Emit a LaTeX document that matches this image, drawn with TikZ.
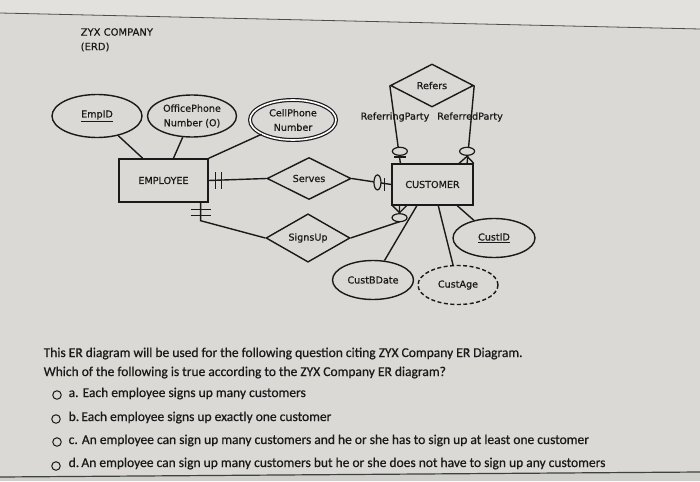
\documentclass[tikz,border=0pt]{standalone}
\usepackage{fontspec}
\setmainfont{DejaVu Sans}[RawFeature={embolden=0.6}]
\newfontfamily\qfont{Carlito}[RawFeature={embolden=0.7}]
\usetikzlibrary{shapes.geometric,calc}
\definecolor{bg}{HTML}{DAD9D5}
\definecolor{bgtop}{HTML}{E3E1DE}
\definecolor{bgbot}{HTML}{CFCFCC}
\definecolor{ink}{HTML}{1A1A1A}
\begin{document}
\begin{tikzpicture}[x=1pt,y=-1pt,line width=1.4pt,color=ink,
  lab/.style={font=\fontsize{9.6}{14.5}\selectfont},
  attr/.style={ellipse,draw,inner sep=0pt,align=center,lab,minimum width=90pt,minimum height=43pt},
  ent/.style={rectangle,draw,inner sep=0pt,lab},
  rel/.style={diamond,draw,inner sep=0pt,lab,minimum width=84pt,minimum height=42pt},
  plain/.style={inner sep=0pt,lab},
  qtext/.style={font=\qfont\fontsize{13.5}{16}\selectfont,anchor=base west,inner sep=0pt},
  optc/.style={circle,draw,line width=1pt,minimum size=8.5pt,inner sep=0pt},
  hring/.style={ellipse,draw,fill=bg,inner sep=0pt,minimum width=15pt,minimum height=8pt,line width=1.2pt},
  vring/.style={ellipse,draw,fill=bg,inner sep=0pt,minimum width=7pt,minimum height=15pt,line width=1.2pt}
]
\useasboundingbox (0,0) rectangle (700,481);
% photo background
\fill[bg] (0,0) rectangle (700,481);
\fill[bgtop] (0,0) -- (700,0) -- (700,29) -- (0,13) -- cycle;
\draw[line width=0.8pt,gray!60!black] (0,13) -- (700,29);
\fill[bgbot] (0,477) -- (700,472) -- (700,481) -- (0,481) -- cycle;
\draw[line width=1.2pt,gray!50!black] (0,477) -- (700,472);

% title
\node[plain,anchor=west,font=\fontsize{10}{12}\selectfont] (t1) at (80,32) {ZYX COMPANY};
\node[plain,anchor=west,font=\fontsize{10}{12}\selectfont] (t2) at (80,47) {(ERD)};

% entities
\node[ent,minimum width=89pt,minimum height=43pt] (emp) at (163.5,180.5) {EMPLOYEE};
\node[ent,minimum width=81pt,minimum height=41pt] (cust) at (432.5,184.5) {CUSTOMER};

% relationships
\node[rel,minimum width=83pt,minimum height=43pt] (refers) at (432,85.5) {Refers};
\node[rel] (serves) at (309,178.5) {Serves};
\node[rel,minimum height=40pt] (signs) at (308,238) {SignsUp};

% attributes
\node[attr] (empid) at (97,116) {\underline{EmpID}};
\node[attr,minimum width=89pt,minimum height=42pt] (ophone) at (192,116) {OfficePhone\\Number (O)};
\node[attr,double,double distance=1.6pt,line width=1.2pt,minimum width=86pt,minimum height=40pt] (cphone) at (293,120) {CellPhone\\Number};
\node[attr,minimum width=82pt,minimum height=39pt] (custid) at (494,238) {\underline{CustID}};
\node[attr,minimum width=81pt,minimum height=39pt] (cbdate) at (373,280) {CustBDate};
\node[attr,dashed,dash pattern=on 4pt off 2.5pt,minimum width=80pt,minimum height=39pt] (cage) at (458,285) {CustAge};

% role labels
\node[plain] (rpl) at (395,117) {ReferringParty};
\node[plain] (rdl) at (470,117) {ReferredParty};

% attribute connectors
\draw (empid) -- ($(emp.north west)!0.27!(emp.north east)$);
\draw (ophone) -- ($(emp.north west)!0.61!(emp.north east)$);
\draw (cphone) -- (emp.north east);
\draw ($(cust.south west)!0.31!(cust.south east)$) -- (cbdate);
\draw ($(cust.south west)!0.57!(cust.south east)$) -- (cage);
\draw ($(cust.south west)!0.80!(cust.south east)$) -- (custid);

% EMPLOYEE -- Serves (one and only one)
\draw (emp.east) -- (serves.west);
\draw ($(emp.east)+(7,-8.5)$) -- ++(0,17);
\draw ($(emp.east)+(13,-8.5)$) -- ++(0,17);

% EMPLOYEE -- SignsUp (one and only one)
\coordinate (esd) at ($(emp.south west)!0.91!(emp.south east)$);
\draw (esd) -- ++(0,18) -- (signs.west);
\draw ($(esd)+(-10,7)$) -- ++(20,0);
\draw ($(esd)+(-10,13)$) -- ++(20,0);

% Serves -- CUSTOMER (zero or one)
\draw (serves.east) -- (cust.west);
\draw ($(cust.west)+(-7,-6.5)$) -- ++(0,13);
\node[vring] (o1) at ($(cust.west)!14pt!(serves.east)$) {};

% Refers -- CUSTOMER, referring party (zero or one)
\coordinate (ct1) at ($(cust.north west)!0.11!(cust.north east)$);
\draw (refers.west) -- (ct1);
\draw ($(ct1)+(-6,-6.5)$) -- ++(12,0);
\node[hring] (o2) at ($(ct1)+(-0.5,-12)$) {};

% Refers -- CUSTOMER, referred party (zero or many)
\coordinate (ct2) at ($(cust.north west)!0.92!(cust.north east)$);
\draw (refers.east) -- (ct2);
\draw ($(ct2)+(-8,0)$) -- ($(ct2)+(0,-7)$) -- (cust.north east);
\node[hring] (o3) at ($(ct2)+(0,-12)$) {};

% SignsUp -- CUSTOMER (zero or many)
\coordinate (cb1) at ($(cust.south west)!0.1!(cust.south east)$);
\draw (signs.east) -- ($(cb1)+(0,16)$) -- (cb1);
\draw ($(cb1)+(-7,0)$) -- ($(cb1)+(0,7)$) -- ($(cb1)+(7,0)$);
\node[hring] (o4) at ($(cb1)+(0,12)$) {};

% question text
\node[qtext] (q1) at (43,357) {This ER diagram will be used for the following question citing ZYX Company ER Diagram.};
\node[qtext] (q2) at (43,376) {Which of the following is true according to the ZYX Company ER diagram?};
\node[optc] (ca) at (57,395) {};
\node[qtext] (qa) at (68,397) {a. Each employee signs up many customers};
\node[optc] (cbb) at (56,419) {};
\node[qtext] (qb) at (68,421) {b.\,Each employee signs up exactly one customer};
\node[optc] (cc) at (57,442) {};
\node[qtext] (qc) at (68,444) {c. An employee can sign up many customers and he or she has to sign up at least one customer};
\node[optc] (cd) at (56,466) {};
\node[qtext] (qd) at (68,467) {d.\,An employee can sign up many customers but he or she does not have to sign up any customers};
\end{tikzpicture}
\end{document}
